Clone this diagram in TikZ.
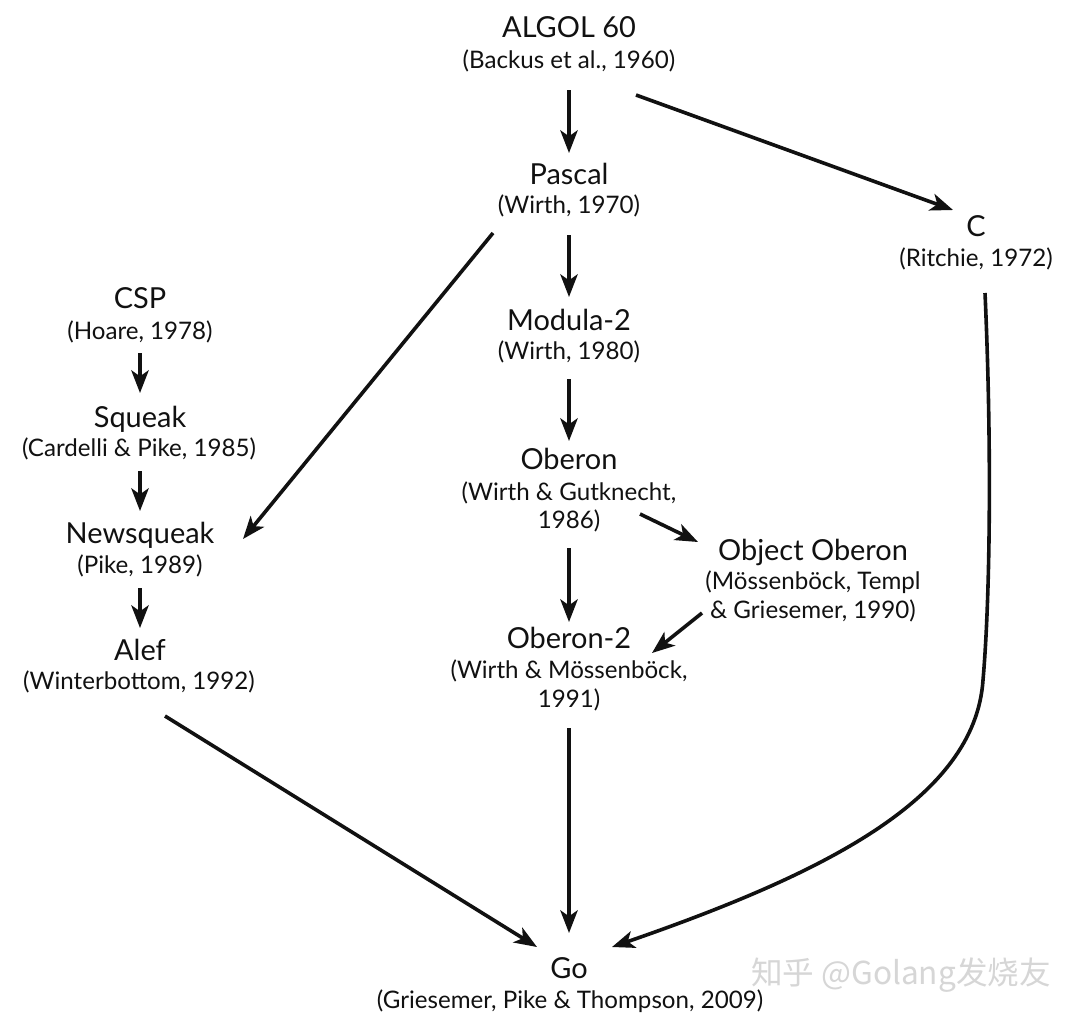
\documentclass[tikz,border=0pt]{standalone}
\usepackage{fontspec}
\setmainfont{Lato}
\newfontfamily\cjkfont{Noto Sans CJK SC}
\usetikzlibrary{arrows.meta,calc}
\definecolor{ink}{HTML}{111111}
\tikzset{
  lang/.style={anchor=base, inner sep=0pt, text=ink, font=\fontsize{21.7}{26}\selectfont},
  year/.style={anchor=base, inner sep=0pt, text=ink, font=\fontsize{18.1}{21}\selectfont},
  arr/.style={draw=ink, line width=2.7pt, -{Stealth[length=17pt,width=13pt,inset=4.5pt]}},
}
\begin{document}
\begin{tikzpicture}[x=0.75pt,y=-0.75pt]
\useasboundingbox[fill=white] (0,0) rectangle (1080,1028);
% center column
\node[lang] (algolT) at (569,37) {ALGOL 60};
\node[year] (algolY) at (569,68) {(Backus et al., 1960)};
\node[lang] (pascalT) at (569,184) {Pascal};
\node[year] (pascalY) at (569,213) {(Wirth, 1970)};
\node[lang] (modT) at (569,330) {Modula-2};
\node[year] (modY) at (569,359) {(Wirth, 1980)};
\node[lang] (oberonT) at (569,469) {Oberon};
\node[year] (oberonYa) at (569,500) {(Wirth \& Gutknecht,};
\node[year] (oberonYb) at (569,528) {1986)};
\node[lang] (ob2T) at (569,648) {Oberon-2};
\node[year] (ob2Ya) at (569,678) {(Wirth \& Mössenböck,};
\node[year] (ob2Yb) at (569,707) {1991)};
\node[lang] (goT) at (569,978) {Go};
\node[year] (goY) at (570,1008) {(Griesemer, Pike \& Thompson, 2009)};
% right
\node[lang] (cT) at (976,236) {C};
\node[year] (cY) at (976,266) {(Ritchie, 1972)};
\node[lang] (objT) at (813,560) {Object Oberon};
\node[year] (objYa) at (813,589) {(Mössenböck, Templ};
\node[year] (objYb) at (813,618) {\& Griesemer, 1990)};
% left column
\node[lang] (cspT) at (140,308) {CSP};
\node[year] (cspY) at (140,339) {(Hoare, 1978)};
\node[lang] (squeakT) at (140,427) {Squeak};
\node[year] (squeakY) at (139,456) {(Cardelli \& Pike, 1985)};
\node[lang] (newsT) at (140,543) {Newsqueak};
\node[year] (newsY) at (140,573) {(Pike, 1989)};
\node[lang] (alefT) at (140,660) {Alef};
\node[year] (alefY) at (139,689) {(Winterbottom, 1992)};
% watermark
\node[anchor=base, inner sep=0pt, text=black!16, font=\cjkfont\fontsize{23.7}{28}\selectfont] (wm) at (901,984) {知乎 @Golang发烧友};
% connectors
\draw[arr] ($(algolY.base)+(0,22)$) -- ($(pascalT.base)+(0,-31)$);
\draw[arr] ($(algolY.base)+(67,27)$) -- ($(cT.base)+(-23,-26)$);
\draw[arr] ($(pascalY.base)+(0,22)$) -- ($(modT.base)+(0,-33)$);
\draw[arr] ($(pascalY.base)+(-76,20)$) -- ($(newsT.base)+(103,-4)$);
\draw[arr] ($(cspY.base)+(0,14)$) -- ($(squeakT.base)+(0,-34)$);
\draw[arr] ($(squeakY.base)+(1,15)$) -- ($(newsT.base)+(0,-32)$);
\draw[arr] ($(modY.base)+(0,20)$) -- ($(oberonT.base)+(0,-28)$);
\draw[arr] ($(newsY.base)+(0,15)$) -- ($(alefT.base)+(0,-32)$);
\draw[arr] ($(oberonYb.base)+(71,-14)$) -- ($(objT.base)+(-115,-18)$);
\draw[arr] ($(oberonYb.base)+(0,20)$) -- ($(ob2T.base)+(0,-26)$);
\draw[arr] ($(objYb.base)+(-111,-5)$) -- ($(ob2T.base)+(83,5)$);
\draw[arr] ($(alefY.base)+(26,27)$) -- ($(goT.base)+(-32,-31)$);
\draw[arr] ($(ob2Yb.base)+(0,21)$) -- ($(goT.base)+(0,-45)$);
\draw[arr] ($(cY.base)+(9,27)$) .. controls (992,450) and (990,600) .. (983,680)
  .. controls (975,800) and (820,875) .. ($(goT.base)+(43,-31)$);
\end{tikzpicture}
\end{document}
